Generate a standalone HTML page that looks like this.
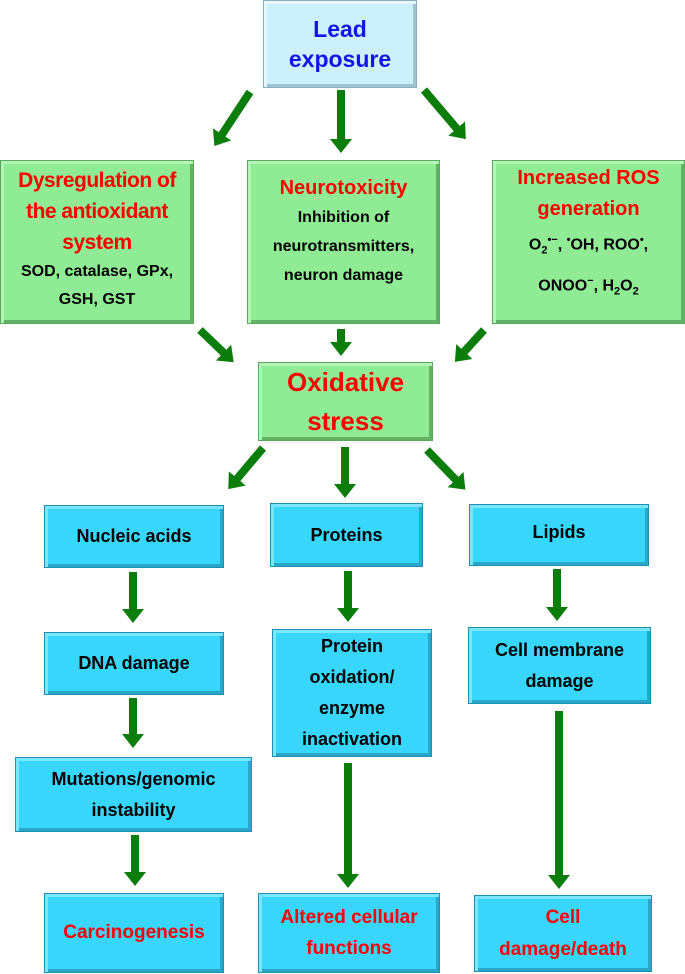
<!DOCTYPE html>
<html><head><meta charset="utf-8"><style>
html,body{margin:0;padding:0;background:#fff;width:685px;height:974px;overflow:hidden;position:relative;font-family:"Liberation Sans",sans-serif;font-weight:bold;}
.b{position:absolute;box-sizing:border-box;display:flex;flex-direction:column;align-items:center;justify-content:center;text-align:center;}
.g{background:#90ec94;border:1px solid #5aa85e;box-shadow:inset 3px 3px 0 #b4f4b6,inset -3px -3px 0 #62b266;}
.c{background:#38d6fb;border:1px solid #1e8fb0;box-shadow:inset 3px 3px 0 #7ae6fd,inset -3px -3px 0 #2aa6c8;}
.l{background:#cdf0fd;border:1px solid #8ab0c0;box-shadow:inset 3px 3px 0 #e6f8fe,inset -3px -3px 0 #9ec4d2;}
.r{color:#f00;}
.k{color:#000;}
svg{position:absolute;left:0;top:0;}
</style></head><body>
<svg width="685" height="974">
<defs><marker id="a" markerUnits="userSpaceOnUse" markerWidth="24" markerHeight="24" refX="2" refY="11" orient="auto"><polygon points="0,0 14,11 0,22" fill="#0a7d0a"/></marker></defs>
<g stroke="#0a7d0a" stroke-width="8" marker-end="url(#a)">
<line x1="250" y1="92" x2="221" y2="136"/>
<line x1="341" y1="90" x2="341" y2="141"/>
<line x1="424" y1="90" x2="458" y2="130"/>
<line x1="200" y1="330" x2="225" y2="354"/>
<line x1="341" y1="329" x2="341" y2="344"/>
<line x1="484" y1="330" x2="463" y2="353"/>
<line x1="263" y1="448" x2="236" y2="480"/>
<line x1="345" y1="447" x2="345" y2="486"/>
<line x1="427" y1="450" x2="457" y2="481"/>
<line x1="133" y1="572" x2="133" y2="611"/>
<line x1="348" y1="571" x2="348" y2="610"/>
<line x1="557" y1="569" x2="557" y2="609"/>
<line x1="133" y1="698" x2="133" y2="736"/>
<line x1="135" y1="835" x2="135" y2="874"/>
<line x1="348" y1="763" x2="348" y2="876"/>
<line x1="559" y1="711" x2="559" y2="877"/>
</g></svg>
<div class="b l" style="left:263px;top:0;width:154px;height:88px;color:#1414e6;font-size:23px;line-height:30px;">Lead<br>exposure</div>
<div class="b g" style="left:0;top:160px;width:194px;height:164px;padding-bottom:6px;"><div class="r" style="font-size:21px;line-height:31px;letter-spacing:-0.5px">Dysregulation of<br>the antioxidant<br>system</div><div class="k" style="font-size:16px;line-height:28px">SOD, catalase, GPx,<br>GSH, GST</div></div>
<div class="b g" style="left:247px;top:160px;width:193px;height:164px;padding-bottom:22px;"><div class="r" style="font-size:20px;line-height:30px">Neurotoxicity</div><div class="k" style="font-size:16px;line-height:29px">Inhibition of<br>neurotransmitters,<br>neuron damage</div></div>
<div class="b g" style="left:492px;top:160px;width:193px;height:164px;padding-bottom:14px;"><div class="r" style="font-size:20px;line-height:31px">Increased ROS<br>generation</div><div class="k" style="font-size:16px;line-height:30px">O<sub style="font-size:11px">2</sub><sup style="font-size:11px">•−</sup>, <sup style="font-size:11px">•</sup>OH, ROO<sup style="font-size:11px">•</sup>,<br>ONOO<sup style="font-size:11px">−</sup>, H<sub style="font-size:11px">2</sub>O<sub style="font-size:11px">2</sub></div></div>
<div class="b g r" style="left:258px;top:362px;width:175px;height:79px;font-size:26px;line-height:39px;">Oxidative<br>stress</div>
<div class="b c k" style="left:44px;top:505px;width:180px;height:63px;font-size:18px;">Nucleic acids</div>
<div class="b c k" style="left:270px;top:503px;width:153px;height:64px;font-size:18px;">Proteins</div>
<div class="b c k" style="left:469px;top:504px;width:180px;height:62px;font-size:18px;padding-bottom:6px;">Lipids</div>
<div class="b c k" style="left:44px;top:632px;width:180px;height:63px;font-size:18px;">DNA damage</div>
<div class="b c k" style="left:272px;top:629px;width:160px;height:128px;font-size:18px;line-height:31px;">Protein<br>oxidation/<br>enzyme<br>inactivation</div>
<div class="b c k" style="left:468px;top:627px;width:183px;height:77px;font-size:18px;line-height:31px;">Cell membrane<br>damage</div>
<div class="b c k" style="left:15px;top:757px;width:237px;height:75px;font-size:18px;line-height:31px;">Mutations/genomic<br>instability</div>
<div class="b c r" style="left:44px;top:893px;width:180px;height:80px;font-size:19px;">Carcinogenesis</div>
<div class="b c r" style="left:258px;top:893px;width:182px;height:80px;font-size:19px;line-height:31px;">Altered cellular<br>functions</div>
<div class="b c r" style="left:474px;top:895px;width:178px;height:77px;font-size:19px;line-height:32px;">Cell<br>damage/death</div>
</body></html>
